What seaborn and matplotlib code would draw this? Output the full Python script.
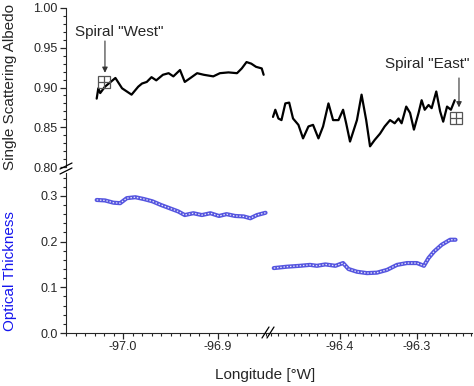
import numpy as np
import pandas as pd
import seaborn as sns
import matplotlib.pyplot as plt
from matplotlib.lines import Line2D
from matplotlib.ticker import MultipleLocator, FormatStrFormatter

# single scattering albedo, west leg
lon_ssa_w = [-97.0277, -97.026, -97.024, -97.019, -97.008, -97.001, -96.991, -96.984,
             -96.980, -96.975, -96.970, -96.965, -96.958, -96.952, -96.947, -96.940,
             -96.935, -96.929, -96.922, -96.915, -96.905, -96.898, -96.889, -96.880,
             -96.875, -96.870, -96.865, -96.860, -96.854, -96.852]
ssa_w = [0.886, 0.899, 0.893, 0.901, 0.912, 0.899, 0.891, 0.901,
         0.905, 0.907, 0.913, 0.909, 0.916, 0.918, 0.914, 0.922,
         0.907, 0.912, 0.918, 0.916, 0.914, 0.918, 0.919, 0.918,
         0.924, 0.932, 0.930, 0.926, 0.924, 0.916]

# single scattering albedo, east leg
lon_ssa_e = [-96.487, -96.484, -96.480, -96.476, -96.471, -96.466, -96.461, -96.454,
             -96.448, -96.441, -96.435, -96.428, -96.422, -96.415, -96.409, -96.402,
             -96.396, -96.392, -96.387, -96.378, -96.372, -96.366, -96.361, -96.355,
             -96.348, -96.342, -96.335, -96.329, -96.324, -96.320, -96.314, -96.309,
             -96.304, -96.298, -96.294, -96.290, -96.285, -96.281, -96.275, -96.270,
             -96.266, -96.261, -96.256, -96.251]
ssa_e = [0.863, 0.872, 0.861, 0.859, 0.880, 0.881, 0.861, 0.853,
         0.836, 0.851, 0.853, 0.836, 0.851, 0.880, 0.859, 0.859,
         0.872, 0.855, 0.832, 0.859, 0.891, 0.859, 0.826, 0.834,
         0.842, 0.851, 0.859, 0.855, 0.861, 0.855, 0.876, 0.868,
         0.847, 0.868, 0.884, 0.872, 0.878, 0.874, 0.895, 0.870,
         0.857, 0.876, 0.872, 0.884]

# optical thickness, west leg
lon_tau_w = [-97.0277, -97.019, -97.010, -97.003, -96.996, -96.987, -96.978, -96.969,
             -96.960, -96.951, -96.942, -96.935, -96.926, -96.917, -96.908, -96.899,
             -96.891, -96.882, -96.873, -96.866, -96.859, -96.850]
tau_w = [0.291, 0.290, 0.285, 0.284, 0.295, 0.297, 0.293, 0.288,
         0.280, 0.273, 0.266, 0.258, 0.262, 0.258, 0.262, 0.256,
         0.260, 0.256, 0.255, 0.251, 0.258, 0.263]

# optical thickness, east leg
lon_tau_e = [-96.486, -96.469, -96.452, -96.439, -96.430, -96.419, -96.406, -96.396,
             -96.389, -96.378, -96.365, -96.352, -96.339, -96.326, -96.313, -96.300,
             -96.291, -96.285, -96.278, -96.268, -96.257, -96.250]
tau_e = [0.142, 0.145, 0.147, 0.149, 0.147, 0.150, 0.147, 0.153,
         0.140, 0.134, 0.131, 0.132, 0.138, 0.149, 0.153, 0.153,
         0.147, 0.164, 0.178, 0.193, 0.204, 0.204]

# spiral locations
spiral_lon = [-97.020, -96.250]
spiral_ssa = [0.907, 0.862]

sns.set_style("ticks")
plt.rcParams['font.family'] = ['Liberation Sans', 'DejaVu Sans']
plt.rcParams['axes.unicode_minus'] = False

fig = plt.figure(figsize=(4.74, 3.86), dpi=100)
W, H = 474, 386

def box(x0, y0, x1, y1):
    return [x0 / W, 1 - y1 / H, (x1 - x0) / W, (y1 - y0) / H]

ax_tl = fig.add_axes(box(66, 8, 268, 167))
ax_tr = fig.add_axes(box(268, 8, 472, 167))
ax_bl = fig.add_axes(box(66, 173, 268, 333))
ax_br = fig.add_axes(box(268, 173, 472, 333))

# albedo lines
sns.lineplot(x=lon_ssa_w, y=ssa_w, ax=ax_tl, color="black", lw=1.6, sort=False)
sns.lineplot(x=lon_ssa_e, y=ssa_e, ax=ax_tr, color="black", lw=1.6, sort=False)

# optical thickness (dense open circles look)
blue = "#2a2ad8"
for ax, x, y in [(ax_bl, lon_tau_w, tau_w), (ax_br, lon_tau_e, tau_e)]:
    sns.lineplot(x=x, y=y, ax=ax, color=blue, lw=3.0, alpha=0.8, sort=False)
    ax.plot(x, y, color="white", lw=0.9, ls=(0, (1.2, 1.4)), alpha=0.85)

# spiral markers
for ax, x, y in [(ax_tl, spiral_lon[0], spiral_ssa[0]), (ax_tr, spiral_lon[1], spiral_ssa[1])]:
    ax.plot(x, y, marker="s", ms=9, mfc="none", mec="#555555", mew=0.9, zorder=5)
    ax.plot(x, y, marker="+", ms=9, mec="#555555", mew=0.9, zorder=5)

# annotations
arrow = dict(arrowstyle="-|>", color="#333333", lw=0.8, mutation_scale=8, shrinkA=0, shrinkB=0)
ax_tl.text(-97.004, 0.970, 'Spiral "West"', ha="center", va="center", fontsize=11)
ax_tl.annotate("", xy=(-97.019, 0.9185), xytext=(-97.019, 0.9585), arrowprops=arrow)
ax_tr.text(-96.287, 0.930, 'Spiral "East"', ha="center", va="center", fontsize=11)
ax_tr.annotate("", xy=(-96.2455, 0.875), xytext=(-96.2455, 0.912), arrowprops=arrow)

# limits
for ax in (ax_tl, ax_bl):
    ax.set_xlim(-97.060, -96.8474)
for ax in (ax_tr, ax_br):
    ax.set_xlim(-96.4935, -96.2286)
for ax in (ax_tl, ax_tr):
    ax.set_ylim(0.80, 1.00)
for ax in (ax_bl, ax_br):
    ax.set_ylim(0.0, 0.35)

for ax in (ax_tl, ax_tr, ax_bl, ax_br):
    ax.set_facecolor("none")
    ax.spines["top"].set_visible(False)
    ax.spines["right"].set_visible(False)
    ax.tick_params(which="major", direction="out", length=4, width=0.9, labelsize=9, pad=2)
    ax.tick_params(which="minor", direction="out", length=2.5, width=0.8)

for ax in (ax_tl, ax_tr):
    ax.spines["bottom"].set_visible(False)
    ax.set_xticks([])
    ax.xaxis.set_minor_locator(plt.NullLocator())
for ax in (ax_tr, ax_br):
    ax.spines["left"].set_visible(False)
    ax.set_yticks([])
    ax.yaxis.set_minor_locator(plt.NullLocator())

ax_tl.set_yticks([0.80, 0.85, 0.90, 0.95, 1.00])
ax_tl.yaxis.set_minor_locator(MultipleLocator(0.01))
ax_tl.yaxis.set_major_formatter(FormatStrFormatter("%.2f"))
ax_bl.set_yticks([0.0, 0.1, 0.2, 0.3])
ax_bl.yaxis.set_minor_locator(MultipleLocator(0.02))
ax_bl.yaxis.set_major_formatter(FormatStrFormatter("%.1f"))

ax_bl.set_xticks([-97.0, -96.9])
ax_bl.xaxis.set_minor_locator(MultipleLocator(0.01))
ax_bl.xaxis.set_major_formatter(FormatStrFormatter("%.1f"))
ax_br.set_xticks([-96.4, -96.3])
ax_br.xaxis.set_minor_locator(MultipleLocator(0.01))
ax_br.xaxis.set_major_formatter(FormatStrFormatter("%.1f"))

ax_tl.set_ylabel("Single Scattering Albedo", fontsize=11)
ax_tl.yaxis.set_label_coords(-0.245, 0.5)
ax_bl.set_ylabel("Optical Thickness", fontsize=11, color="#1515ee")
ax_bl.yaxis.set_label_coords(-0.245, 0.39)
for ax in (ax_tl, ax_tr, ax_bl, ax_br):
    ax.set_xlabel("")
fig.text(265 / W, 1 - 375 / H, "Longitude [°W]", ha="center", va="center", fontsize=11)

# axis break marks
def slash(x0, y0, x1, y1):
    fig.add_artist(Line2D([x0 / W, x1 / W], [1 - y0 / H, 1 - y1 / H], color="black", lw=0.9))

slash(60, 169, 72, 163)
slash(60, 174, 72, 168)
slash(262, 338, 269, 327)
slash(267, 338, 274, 327)

fig.savefig("out.png", dpi=100)
